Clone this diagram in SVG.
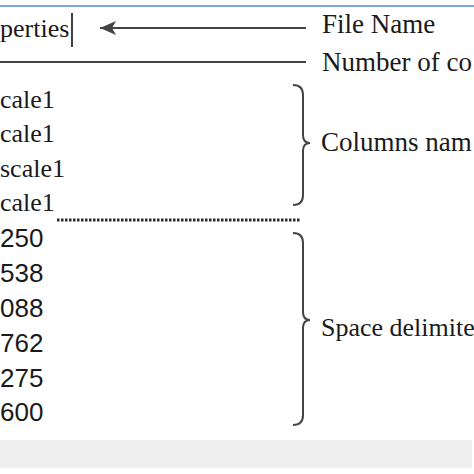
<svg xmlns="http://www.w3.org/2000/svg" width="474" height="474" viewBox="0 0 474 474">
<defs>
<style>
.serif{font-family:"Liberation Serif","Times New Roman",serif;font-size:26px;fill:#1a1a1a}
.lbl{font-family:"Liberation Serif","Times New Roman",serif;font-size:27px;fill:#1a1a1a}
.num{font-family:"Liberation Sans",Arial,sans-serif;font-size:26px;fill:#1a1a1a}
.ln{stroke:#444;stroke-width:2;fill:none}
.brace{stroke:#444;stroke-width:2;fill:none}
</style>
<marker id="ah" viewBox="0 0 16 14" refX="16" refY="7" markerWidth="16" markerHeight="14" markerUnits="userSpaceOnUse" orient="auto">
<path d="M16,7 L0,0 L4,7 L0,14 Z" fill="#444"/>
</marker>
</defs>
<rect width="474" height="474" fill="#fff"/>
<rect x="0" y="440" width="472" height="28" fill="#efefef"/>
<line x1="0" y1="6" x2="474" y2="6" stroke="#7aa7dc" stroke-width="2"/>

<g id="editor">
<text class="serif" x="0" y="37">perties</text>
<line x1="72" y1="13" x2="72" y2="47" stroke="#111" stroke-width="1.6"/>
<line class="ln" x1="0" y1="62" x2="306" y2="62"/>
<text class="serif" x="0" y="108">cale1</text>
<text class="serif" x="0" y="142">cale1</text>
<text class="serif" x="0" y="177">scale1</text>
<text class="serif" x="0" y="211">cale1</text>
<line x1="57" y1="220" x2="300" y2="220" stroke="#2a2a2a" stroke-width="3" stroke-dasharray="2.5,1.5"/>
<text class="num" x="0" y="247">250</text>
<text class="num" x="0" y="282">538</text>
<text class="num" x="0" y="317">088</text>
<text class="num" x="0" y="352">762</text>
<text class="num" x="0" y="387">275</text>
<text class="num" x="0" y="421">600</text>
</g>

<g id="file-name"><text class="lbl" x="322" y="33">File Name</text></g>
<g id="number-of-columns"><text class="lbl" x="322" y="71">Number of co</text></g>
<g id="columns-names"><text class="lbl" x="321" y="151">Columns nam</text></g>
<g id="space-delimited"><text class="lbl" x="321" y="336" style="font-size:26px">Space delimite</text></g>

<g id="connectors">
<line class="ln" x1="306" y1="28" x2="100" y2="28" marker-end="url(#ah)"/>
<path class="brace" d="M293,85 C300,85 303,88 303,95 L303,135 C303,140 305,143 310,143 C305,143 303,146 303,151 L303,195 C303,202 300,205 293,205"/>
<path class="brace" d="M293,233 C300,233 303,236 303,243 L303,312 C303,317 305,320 310,320 C305,320 303,323 303,328 L303,415 C303,422 300,425 293,425"/>
</g>
</svg>
